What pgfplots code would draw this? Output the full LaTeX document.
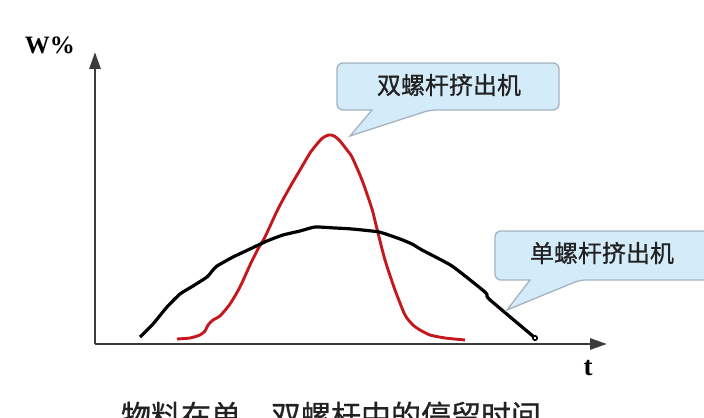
\documentclass[border=0pt]{standalone}
\usepackage{pgfplots}
\pgfplotsset{compat=1.18}
\usetikzlibrary{arrows.meta}
\usepackage{fontspec}
\setmainfont{Liberation Serif}
\newfontfamily\cjk[FakeBold=0.8]{Noto Sans CJK SC}

\definecolor{axisgray}{RGB}{60,60,60}
\definecolor{curvered}{RGB}{196,24,30}
\definecolor{bubblefill}{RGB}{212,236,250}
\definecolor{bubbleedge}{RGB}{165,178,192}
\definecolor{textgray}{RGB}{34,34,34}

\begin{document}
\begin{tikzpicture}
    \useasboundingbox (0,0) rectangle (704bp,418bp);
    \clip (0,0) rectangle (704bp,418bp);
    \begin{axis}[
            at={(95bp,74bp)},
            anchor=south west,
            scale only axis,
            width=512bp,
            height=292bp,
            xmin=0, xmax=512,
            ymin=0, ymax=292,
            axis lines=left,
            axis line style={draw=axisgray, line width=2.8bp,
                    -{Triangle[length=17bp,width=11bp]}},
            xtick=\empty,
            ytick=\empty,
            clip=false,
            xlabel={\bfseries t},
            ylabel={\bfseries W\%},
            every axis x label/.style={at={(rel axis cs:0.963,-0.082)}, anchor=center,
                    font=\fontsize{27bp}{30bp}\selectfont},
            every axis y label/.style={at={(rel axis cs:-0.088,1.024)}, anchor=center,
                    font=\fontsize{25bp}{29bp}\selectfont},
        ]
        % twin screw extruder
        \addplot[curvered, line width=2.9bp, smooth, tension=0.4] coordinates {
                (82,5) (95,6) (105,9) (110,13) (113,19) (118,24) (125,28)
                (135,40) (145,57) (155,79) (163,95) (170,107) (183,135)
                (195,157) (205,174) (215,191) (222,200) (227,205.5) (232,208.5)
                (236,209) (240,207.5) (245,203) (252,194) (257,187) (267,164)
                (277,135) (282,115) (290,84) (300,54) (310,29) (318,19) (325,14)
                (335,9) (350,6) (370,4)
            };
        % single screw extruder
        \addplot[black, line width=3.2bp, smooth, tension=0.3] coordinates {
                (45,7) (58,20) (72,37) (85,50) (98,58) (112,67) (118,74)
                (122,78) (138,87) (155,95) (172,103) (188,109) (205,113)
                (220,117) (240,116) (257,115) (284,112) (305,105) (317,100)
                (327,94) (357,78) (390,52) (392,48) (394,45) (414,28) (439,7)
            };
        \addplot[black, only marks, mark=o, mark size=2.2bp, line width=1.6bp]
        coordinates {(440,6)};
    \end{axis}
    \begin{scope}[x=1bp, y=1bp]
        \draw[fill=bubblefill, draw=bubbleedge, line width=1.3bp, rounded corners=6bp]
            (337,355) -- (559,355) -- (559,308) -- (430,308)
            [sharp corners] -- (350,282) -- (372,308)
            [rounded corners=6bp] -- (337,308) -- cycle;
        \node[text=textgray, font=\cjk\fontsize{24bp}{28bp}\selectfont]
            at (449,333) {双螺杆挤出机};
        \draw[fill=bubblefill, draw=bubbleedge, line width=1.3bp, rounded corners=6bp]
            (495,187) -- (730,187) -- (730,138) -- (580,138)
            [sharp corners] -- (507,108) -- (530,138)
            [rounded corners=6bp] -- (495,138) -- cycle;
        \node[text=textgray, font=\cjk\fontsize{24bp}{28bp}\selectfont]
            at (602,165) {单螺杆挤出机};
        \node[anchor=base, text=textgray, font=\cjk\fontsize{30bp}{34bp}\selectfont]
            at (331,-9) {物料在单、双螺杆中的停留时间};
    \end{scope}
\end{tikzpicture}
\end{document}
